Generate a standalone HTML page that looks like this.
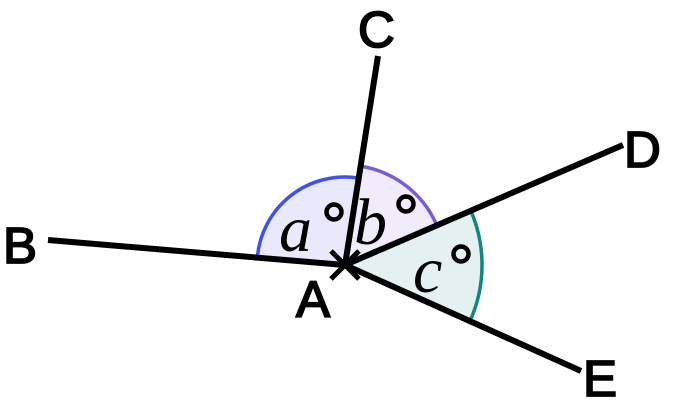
<!DOCTYPE html>
<html><head><meta charset="utf-8"><style>html,body{margin:0;padding:0;background:#fff}svg{display:block}</style></head>
<body>
<svg width="692" height="410" viewBox="0 0 692 410" xmlns="http://www.w3.org/2000/svg">
<path d="M345 265 L257.3 257.6 A88 88 0 0 1 358.3 178 Z" fill="#e9e9fb"/>
<path d="M257.3 257.6 A88 88 0 0 1 358.3 178" fill="none" stroke="#3f51e8" stroke-width="3.5"/>
<path d="M345 265 L360.1 166.1 A100 100 0 0 1 436.8 225.2 Z" fill="#f1ecfb"/>
<path d="M360.1 166.1 A100 100 0 0 1 436.8 225.2" fill="none" stroke="#7b5bd6" stroke-width="3.5"/>
<path d="M345 265 L470.7 210.5 A137 137 0 0 1 470.1 320.9 Z" fill="#e5f1f0"/>
<path d="M470.7 210.5 A137 137 0 0 1 470.1 320.9" fill="none" stroke="#14857f" stroke-width="3.5"/>
<g stroke="#000" stroke-width="6" stroke-linecap="butt">
<line x1="345" y1="265" x2="48" y2="240"/>
<line x1="345" y1="265" x2="378" y2="56"/>
<line x1="345" y1="265" x2="623" y2="145"/>
<line x1="345" y1="265" x2="581" y2="371"/>
<line x1="331" y1="251" x2="359" y2="279" stroke-width="5"/>
<line x1="331" y1="279" x2="359" y2="251" stroke-width="5"/>
</g>
<g fill="none" stroke="#000" stroke-width="4.5">
<circle cx="334" cy="212" r="7.5"/>
<circle cx="406" cy="204" r="7.5"/>
<circle cx="461" cy="254" r="7.5"/>
</g>
<g font-family="Liberation Serif, serif" font-style="italic" font-size="66" fill="#000">
<text x="279" y="251">a</text>
<text x="354" y="244">b</text>
<text x="413" y="292">c</text>
</g>
<g font-family="Liberation Sans, sans-serif" font-size="51" fill="#000" stroke="#000" stroke-width="1.8">
<text x="358" y="47">C</text>
<text x="3" y="263">B</text>
<text x="624" y="167">D</text>
<text x="583" y="396">E</text>
<text x="296" y="317">A</text>
</g>
</svg>
</body></html>
